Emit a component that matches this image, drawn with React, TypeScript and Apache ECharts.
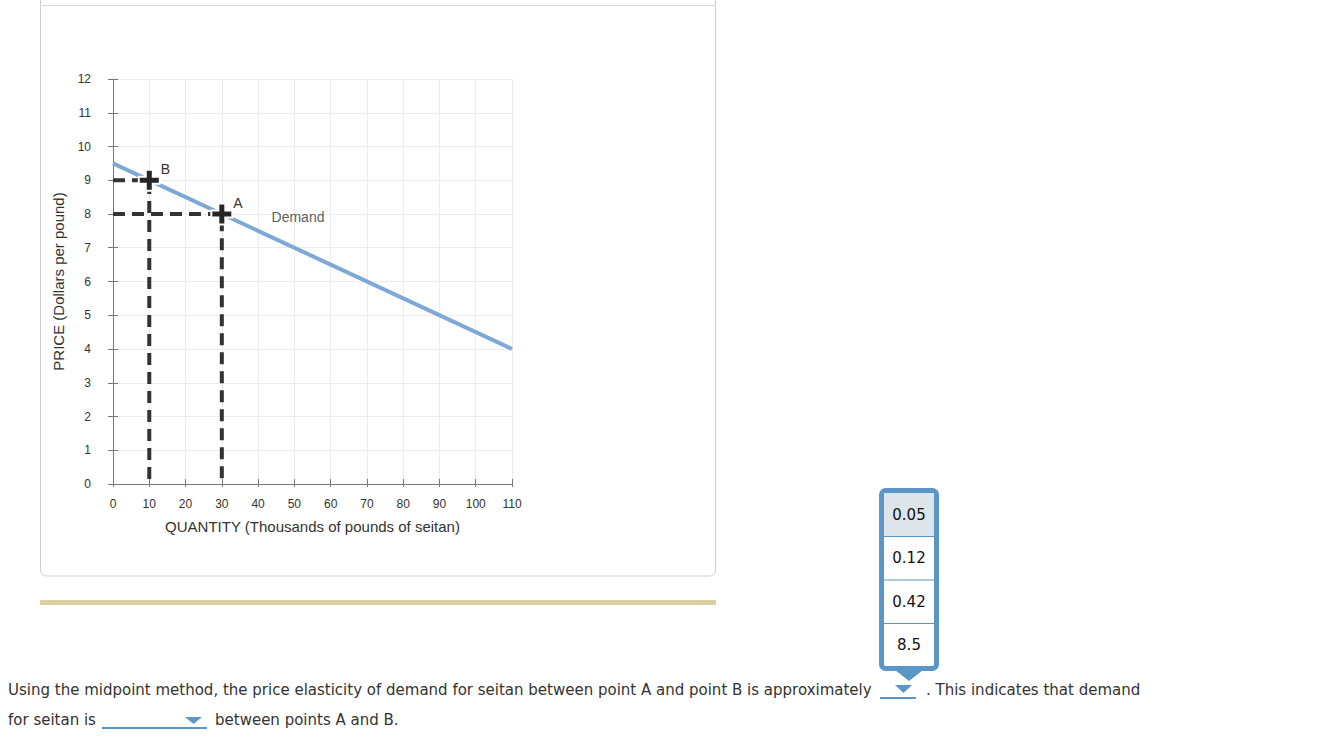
import React, { useEffect, useRef } from "react";
import * as echarts from "echarts";

// ---- data ----
const demandQuantity = [0, 110];
const demandPrice = [9.5, 4];
const pointNames = ["B", "A"];
const pointQuantity = [10, 30];
const pointPrice = [9, 8];
const demandLabelQuantity = 51;
const demandLabelPrice = 7.9;
const xAxisMax = 110;
const xAxisStep = 10;
const yAxisMax = 12;
const yAxisStep = 1;
const answerOptions = ["0.05", "0.12", "0.42", "8.5"];
const xTitle = "QUANTITY (Thousands of pounds of seitan)";
const yTitle = "PRICE (Dollars per pound)";
const sentence1a =
  "Using the midpoint method, the price elasticity of demand for seitan between point A and point B is approximately";
const sentence1b = ". This indicates that demand";
const sentence2a = "for seitan is";
const sentence2b = "between points A and B.";

const AX = "'Liberation Sans', Arial, sans-serif";
const VF = "'DejaVu Sans', Verdana, sans-serif";
const BLUE = "#5b96c8";

export default function App() {
  const ref = useRef<HTMLDivElement>(null);
  useEffect(() => {
    if (!ref.current) return;
    const chart = echarts.init(ref.current, undefined, { renderer: "svg" });

    const pointData = pointNames.map((n, i) => ({ name: n, value: [pointQuantity[i], pointPrice[i]] }));

    const guideSeries = pointNames.map((n, i) => ({
      type: "line",
      name: "guide" + n,
      data: [
        [0, pointPrice[i]],
        [pointQuantity[i], pointPrice[i]],
        [pointQuantity[i], 0],
      ],
      symbol: "none",
      lineStyle: { color: "#333", width: 4, type: [12, 7] },
      z: 3,
      silent: true,
    }));

    const crossBar = (name: string, size: number[], color: string, z: number, withLabel: boolean) => ({
      type: "scatter",
      name,
      data: pointData,
      symbol: "rect",
      symbolSize: size,
      itemStyle: { color, opacity: 1 },
      label: withLabel
        ? {
            show: true,
            formatter: "{b}",
            position: "right",
            offset: [-3, -11],
            fontFamily: AX,
            fontSize: 14,
            color: "#333",
          }
        : { show: false },
      z,
      silent: true,
    });

    const rowTop = 493;
    const rowH = 43.5;
    const popupGraphics: any[] = [
      { type: "rect", shape: { x: 881.5, y: 490.5, width: 55, height: 178, r: 4 }, style: { fill: "#fff", stroke: BLUE, lineWidth: 5 }, z: 10 },
      { type: "polygon", shape: { points: [[895, 670], [923, 670], [909, 681]] }, style: { fill: BLUE }, z: 10 },
      { type: "rect", shape: { x: 884, y: rowTop, width: 50, height: rowH }, style: { fill: "#dde5ea" }, z: 11 },
    ];
    answerOptions.forEach((opt, i) => {
      if (i > 0) {
        popupGraphics.push({
          type: "line",
          shape: { x1: 884, y1: rowTop + i * rowH, x2: 934, y2: rowTop + i * rowH },
          style: { stroke: BLUE, lineWidth: 1 },
          z: 12,
        });
      }
      popupGraphics.push({
        type: "text",
        x: 909,
        y: rowTop + i * rowH + rowH / 2,
        style: { text: opt, fontSize: 15, fontFamily: VF, fill: "#111", textAlign: "center", textVerticalAlign: "middle", align: "center", verticalAlign: "middle" },
        z: 12,
      });
    });

    const textStyle = (text: string, align = "left") => ({
      text,
      fontSize: 15,
      fontFamily: VF,
      fill: "#333",
      textAlign: align,
      textVerticalAlign: "middle",
      align,
      verticalAlign: "middle",
    });

    chart.setOption({
      animation: false,
      backgroundColor: "#fff",
      grid: { left: 113, top: 79, width: 399, height: 405, containLabel: false },
      xAxis: [
        {
          type: "value",
          min: 0,
          max: xAxisMax,
          interval: xAxisStep,
          name: xTitle,
          nameLocation: "middle",
          nameGap: 35,
          nameTextStyle: { fontFamily: AX, fontSize: 15, color: "#333" },
          axisLine: { show: true, onZero: false, lineStyle: { color: "#777", width: 1 } },
          axisTick: { show: true, inside: true, length: 5, lineStyle: { color: "#777" } },
          axisLabel: { margin: 14, fontFamily: AX, fontSize: 12, color: "#333" },
          splitLine: { show: true, lineStyle: { color: "#ececec", width: 1 } },
        },
        {
          type: "value",
          position: "bottom",
          min: 0,
          max: xAxisMax,
          interval: xAxisStep,
          axisLine: { show: false },
          axisTick: { show: true, inside: false, length: 3, lineStyle: { color: "#777" } },
          axisLabel: { show: false },
          splitLine: { show: false },
        },
      ],
      yAxis: [
        {
          type: "value",
          min: 0,
          max: yAxisMax,
          interval: yAxisStep,
          name: yTitle,
          nameLocation: "middle",
          nameGap: 47,
          nameTextStyle: { fontFamily: AX, fontSize: 15, color: "#333" },
          axisLine: { show: true, onZero: false, lineStyle: { color: "#777", width: 1 } },
          axisTick: { show: true, inside: false, length: 5, lineStyle: { color: "#777" } },
          axisLabel: { margin: 22, fontFamily: AX, fontSize: 12, color: "#333" },
          splitLine: { show: true, lineStyle: { color: "#ececec", width: 1 } },
        },
        {
          type: "value",
          position: "left",
          min: 0,
          max: yAxisMax,
          interval: yAxisStep,
          axisLine: { show: false },
          axisTick: { show: true, inside: true, length: 5, lineStyle: { color: "#777" } },
          axisLabel: { show: false },
          splitLine: { show: false },
        },
      ],
      series: [
        {
          type: "line",
          name: "Demand",
          data: demandQuantity.map((q, i) => [q, demandPrice[i]]),
          symbol: "none",
          lineStyle: { color: "#7ea8d5", width: 4 },
          z: 2,
          silent: true,
        },
        ...guideSeries,
        crossBar("haloH", [23, 9], "#fff", 4, false),
        crossBar("haloV", [9, 23], "#fff", 4, false),
        crossBar("crossH", [19, 5], "#262626", 5, true),
        crossBar("crossV", [5, 19], "#262626", 5, false),
        {
          type: "scatter",
          name: "demandLabel",
          data: [{ name: "Demand", value: [demandLabelQuantity, demandLabelPrice] }],
          symbol: "circle",
          symbolSize: 2,
          itemStyle: { color: "rgba(255,255,255,0)" },
          label: {
            show: true,
            formatter: "{b}",
            position: "inside",
            fontFamily: AX,
            fontSize: 14,
            color: "#333",
          },
          z: 5,
          silent: true,
        },
      ],
      graphic: [
        // panel
        { type: "rect", shape: { x: 40.5, y: -20, width: 675, height: 596, r: 6 }, style: { fill: "none", stroke: "#cfcfcf", lineWidth: 1 }, z: -1, silent: true },
        { type: "line", shape: { x1: 40, y1: 5.5, x2: 716, y2: 5.5 }, style: { stroke: "#dcdcdc", lineWidth: 1 }, silent: true },
        // gold bar
        { type: "rect", shape: { x: 40, y: 600, width: 676, height: 5 }, style: { fill: "#dccfa0" }, silent: true },
        // sentence line 1
        { type: "text", x: 8, y: 690, style: textStyle(sentence1a), silent: true },
        { type: "line", shape: { x1: 880, y1: 698, x2: 916, y2: 698 }, style: { stroke: BLUE, lineWidth: 2 }, silent: true },
        { type: "polygon", shape: { points: [[895, 685], [912, 685], [903.5, 693]] }, style: { fill: BLUE }, silent: true },
        { type: "text", x: 926, y: 690, style: textStyle(sentence1b), silent: true },
        // sentence line 2
        { type: "text", x: 8, y: 720, style: textStyle(sentence2a), silent: true },
        { type: "line", shape: { x1: 102, y1: 728, x2: 207, y2: 728 }, style: { stroke: BLUE, lineWidth: 2 }, silent: true },
        { type: "polygon", shape: { points: [[185, 717], [202, 717], [193.5, 724]] }, style: { fill: BLUE }, silent: true },
        { type: "text", x: 215, y: 720, style: textStyle(sentence2b), silent: true },
        ...popupGraphics,
      ],
    });
    return () => chart.dispose();
  }, []);
  return (
    <div
      ref={ref}
      style={{ position: "fixed", left: 0, top: 0, width: 1320, height: 751 }}
    />
  );
}
